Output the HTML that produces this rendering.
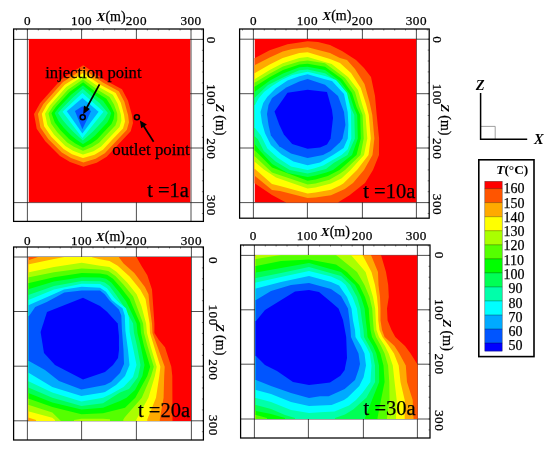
<!DOCTYPE html>
<html><head><meta charset="utf-8"><title>Temperature field</title>
<style>html,body{margin:0;padding:0;background:#fff}svg{display:block}text{font-family:"Liberation Serif","Times New Roman",serif;fill:#000}.s{stroke:#000;stroke-width:0.25px}.b{font-weight:bold}.bi{font-weight:bold;font-style:italic}</style>
</head><body>
<svg width="550" height="450" viewBox="0 0 550 450">
<rect width="550" height="450" fill="#fff"/>
<g id="panel1">
<line x1="27.4" y1="29" x2="27.4" y2="221.4" stroke="#222" stroke-width="0.8"/>
<line x1="81.6" y1="29" x2="81.6" y2="221.4" stroke="#222" stroke-width="0.8"/>
<line x1="136.4" y1="29" x2="136.4" y2="221.4" stroke="#222" stroke-width="0.8"/>
<line x1="191.0" y1="29" x2="191.0" y2="221.4" stroke="#222" stroke-width="0.8"/>
<line x1="13.6" y1="39.4" x2="203.4" y2="39.4" stroke="#222" stroke-width="0.8"/>
<line x1="13.6" y1="93.7" x2="203.4" y2="93.7" stroke="#222" stroke-width="0.8"/>
<line x1="13.6" y1="148.0" x2="203.4" y2="148.0" stroke="#222" stroke-width="0.8"/>
<line x1="13.6" y1="202.6" x2="203.4" y2="202.6" stroke="#222" stroke-width="0.8"/>
<clipPath id="cp0"><rect x="28.5" y="39" width="162.0" height="163.5"/></clipPath>
<g clip-path="url(#cp0)">
<rect x="28.5" y="39" width="162.0" height="163.5" fill="#FF0000"/>
<polygon points="40.0,103.3 61.3,79.3 82.8,65.6 83.3,65.3 104.7,80.0 122.0,89.3 128.0,100.7 131.4,113.0 132.0,115.3 133.0,123.0 130.7,131.3 118.0,144.7 106.7,156.7 96.7,162.7 83.3,166.7 82.8,166.5 70.0,162.0 60.0,156.0 45.3,141.3 36.7,128.7 34.0,114.0 34.6,113.0" fill="#FF5500"/>
<polygon points="43.4,104.1 63.0,82.0 82.8,69.4 83.3,69.1 102.9,82.6 118.9,91.2 124.4,101.7 127.5,113.0 128.1,115.1 129.0,122.2 126.9,129.8 115.2,142.2 104.8,153.2 95.6,158.7 83.3,162.4 82.8,162.2 71.0,158.1 61.8,152.6 48.3,139.0 40.4,127.4 37.9,113.9 38.4,113.0" fill="#FFAA00"/>
<polygon points="46.8,104.9 64.7,84.7 82.8,73.2 83.2,72.9 101.2,85.3 115.7,93.1 120.8,102.7 123.6,113.0 124.1,114.9 125.0,121.4 123.0,128.4 112.4,139.6 102.9,149.7 94.5,154.7 83.2,158.1 82.8,158.0 72.0,154.2 63.6,149.1 51.3,136.8 44.1,126.2 41.8,113.8 42.3,113.0" fill="#FFFF00"/>
<polygon points="49.8,105.5 66.2,87.0 82.8,76.3 83.2,76.1 99.7,87.6 112.8,94.8 117.6,103.5 120.5,113.0 120.9,114.8 121.4,120.7 119.5,127.0 109.8,137.3 101.1,146.5 93.5,151.2 83.2,154.6 82.8,154.5 73.0,150.7 65.3,146.0 54.1,134.7 47.4,125.1 45.0,113.8 45.4,113.0" fill="#AAFF00"/>
<polygon points="53.0,106.2 67.9,89.7 82.8,79.6 83.2,79.4 98.0,90.1 109.5,96.9 114.0,104.5 117.1,113.0 117.3,114.6 117.3,119.9 115.4,125.4 106.8,134.6 99.1,142.8 92.3,147.1 83.2,150.8 82.8,150.8 74.0,146.8 67.2,142.4 57.3,132.3 51.2,123.8 48.5,113.7 48.7,113.0" fill="#55FF00"/>
<polygon points="55.8,106.9 69.5,92.1 82.8,82.4 83.1,82.3 96.4,92.5 106.4,98.7 110.7,105.4 114.3,113.0 114.2,114.5 113.6,119.1 111.5,124.0 103.9,132.0 97.2,139.3 91.3,143.4 83.1,147.5 82.8,147.6 74.9,143.2 69.0,139.0 60.3,130.0 54.8,122.5 51.5,113.6 51.6,113.0" fill="#00FF00"/>
<polygon points="58.9,107.6 71.1,94.7 82.8,85.4 83.1,85.5 94.8,95.0 103.0,100.8 107.1,106.4 111.2,113.0 110.8,114.3 109.5,118.3 107.3,122.4 100.9,129.3 95.1,135.4 90.2,139.4 83.1,144.0 82.8,144.1 75.9,139.3 71.0,135.3 63.5,127.5 58.6,121.2 54.8,113.6 54.7,113.0" fill="#00FF55"/>
<polygon points="62.2,108.3 72.9,97.5 82.8,88.7 83.1,88.9 93.0,97.7 99.4,102.9 103.3,107.4 107.9,113.0 107.2,114.1 105.2,117.5 102.9,120.7 97.6,126.4 92.9,131.5 89.0,135.1 83.1,140.2 82.8,140.4 77.0,135.2 73.0,131.5 66.9,125.0 62.7,119.9 58.3,113.5 58.0,113.0" fill="#00FFAA"/>
<polygon points="62.5,111.8 82.4,93.1 103.5,111.8 82.4,137.9" fill="#00FFFF"/>
<polygon points="66.8,111.3 82.4,98.1 98.6,111.8 82.4,133.5" fill="#00AAFF"/>
<polygon points="74.9,111.1 82.4,106.2 91.1,111.1 82.4,129.2" fill="#0055FF"/>
</g>
<path d="M16.5,29v1.5M27.4,29v1.5M203.4,39.4h-1.5M38.3,29v1.5M203.4,50.3h-1.5M49.2,29v1.5M203.4,61.2h-1.5M60.1,29v1.5M203.4,72.0h-1.5M71.0,29v1.5M203.4,82.9h-1.5M81.9,29v1.5M203.4,93.8h-1.5M92.8,29v1.5M203.4,104.7h-1.5M103.7,29v1.5M203.4,115.6h-1.5M114.7,29v1.5M203.4,126.4h-1.5M125.6,29v1.5M203.4,137.3h-1.5M136.5,29v1.5M203.4,148.2h-1.5M147.4,29v1.5M203.4,159.1h-1.5M158.3,29v1.5M203.4,170.0h-1.5M169.2,29v1.5M203.4,180.8h-1.5M180.1,29v1.5M203.4,191.7h-1.5M191.0,29v1.5M203.4,202.6h-1.5M201.9,29v1.5M203.4,213.5h-1.5" stroke="#333" stroke-width="0.6" fill="none"/>
<rect x="13.6" y="29" width="189.8" height="192.4" fill="none" stroke="#000" stroke-width="1.25"/>
<text x="27.4" y="24.8" font-size="13.2" letter-spacing="0.45" text-anchor="middle" class="s">0</text>
<text x="81.6" y="24.8" font-size="13.2" letter-spacing="0.45" text-anchor="middle" class="s">100</text>
<text x="136.4" y="24.8" font-size="13.2" letter-spacing="0.45" text-anchor="middle" class="s">200</text>
<text x="191.0" y="24.8" font-size="13.2" letter-spacing="0.45" text-anchor="middle" class="s">300</text>
<text x="96.5" y="20.8" font-size="14"><tspan class="bi" font-size="13.4">X</tspan><tspan class="s">(m)</tspan></text>
<text transform="translate(207.4,40.2) rotate(90)" font-size="13.2" letter-spacing="0.45" text-anchor="middle" class="s">0</text>
<text transform="translate(207.4,94.5) rotate(90)" font-size="13.2" letter-spacing="0.45" text-anchor="middle" class="s">100</text>
<text transform="translate(207.4,148.8) rotate(90)" font-size="13.2" letter-spacing="0.45" text-anchor="middle" class="s">200</text>
<text transform="translate(207.4,205.2) rotate(90)" font-size="13.2" letter-spacing="0.45" text-anchor="middle" class="s">300</text>
<text transform="translate(215.6,104.0) rotate(90)" font-size="14"><tspan class="bi" font-size="13.4">Z</tspan><tspan class="s" dx="-0.4"> (m)</tspan></text>
<text x="147.2" y="197.3" font-size="20.5" class="s">t =1a</text>
</g>
<g id="panel2">
<line x1="253.4" y1="29" x2="253.4" y2="218.2" stroke="#222" stroke-width="0.8"/>
<line x1="307.4" y1="29" x2="307.4" y2="218.2" stroke="#222" stroke-width="0.8"/>
<line x1="362.4" y1="29" x2="362.4" y2="218.2" stroke="#222" stroke-width="0.8"/>
<line x1="416.4" y1="29" x2="416.4" y2="218.2" stroke="#222" stroke-width="0.8"/>
<line x1="239.6" y1="39.2" x2="429.2" y2="39.2" stroke="#222" stroke-width="0.8"/>
<line x1="239.6" y1="93.7" x2="429.2" y2="93.7" stroke="#222" stroke-width="0.8"/>
<line x1="239.6" y1="148.0" x2="429.2" y2="148.0" stroke="#222" stroke-width="0.8"/>
<line x1="239.6" y1="202.6" x2="429.2" y2="202.6" stroke="#222" stroke-width="0.8"/>
<clipPath id="cp1"><rect x="254.5" y="39" width="162.0" height="163.5"/></clipPath>
<g clip-path="url(#cp1)">
<rect x="254.5" y="39" width="162.0" height="163.5" fill="#FF0000"/>
<polygon points="250.0,57.9 255.0,57.9 269.7,50.2 287.5,44.3 307.6,41.3 318.0,42.0 330.0,45.0 342.0,51.0 356.0,60.0 364.0,68.0 371.0,77.0 375.0,96.0 376.7,115.0 379.1,138.6 379.0,155.0 373.0,170.0 365.0,183.0 349.5,195.2 338.6,202.1 338.0,206.0 286.0,206.0 286.0,202.5 272.0,195.0 255.0,183.5 250.0,183.5" fill="#FF5500"/>
<polygon points="250.0,65.0 255.0,65.0 269.7,57.5 282.7,51.4 292.2,49.0 307.6,47.2 330.0,53.0 340.0,58.0 347.0,60.0 355.0,69.0 364.5,84.0 369.5,102.0 372.3,115.0 374.4,138.6 372.5,155.0 364.0,170.0 353.0,183.0 344.8,189.0 331.0,195.2 315.5,197.5 307.6,198.0 280.0,191.0 272.0,190.0 255.0,176.0 250.0,176.0" fill="#FFAA00"/>
<polygon points="250.0,73.0 255.0,73.0 269.7,64.5 282.7,57.9 299.3,53.1 307.6,52.3 330.0,59.0 340.0,63.0 351.0,73.0 360.8,88.0 366.0,104.0 368.8,115.0 370.8,138.6 368.5,155.0 357.0,170.0 343.3,183.6 340.0,185.5 331.0,189.8 315.5,192.5 307.6,193.5 280.0,186.0 272.0,184.0 255.0,169.0 250.0,169.0" fill="#FFFF00"/>
<polygon points="250.0,79.0 255.0,79.0 269.7,70.0 282.7,63.2 299.3,57.9 307.6,57.0 331.7,64.0 348.0,77.0 358.0,90.0 362.0,104.0 365.5,115.0 367.3,138.6 364.0,155.0 350.5,170.0 341.7,178.2 331.0,183.6 315.5,187.5 307.6,188.5 276.0,177.5 263.8,169.5 255.0,162.0 250.0,162.0" fill="#AAFF00"/>
<polygon points="250.0,82.5 255.0,82.5 270.0,73.5 283.0,66.5 299.3,61.4 307.6,60.5 325.0,63.3 345.0,78.0 355.0,92.0 359.0,106.0 362.6,115.0 363.7,138.6 360.5,155.0 345.0,170.0 340.2,173.5 329.4,179.7 315.5,183.5 307.6,184.5 272.0,172.5 255.0,156.5 250.0,156.5" fill="#55FF00"/>
<polygon points="250.0,86.5 255.0,86.5 270.0,77.0 283.0,70.0 299.3,64.4 307.6,63.7 325.0,66.7 342.0,79.0 352.0,93.0 356.5,107.0 360.2,115.0 360.8,138.6 356.5,155.0 339.5,170.0 327.8,175.9 315.5,179.5 307.6,180.7 272.0,167.5 255.0,150.5 250.0,150.5" fill="#00FF00"/>
<polygon points="250.0,91.5 255.0,91.5 270.0,80.5 283.0,73.5 299.3,67.3 307.6,66.8 325.0,70.0 340.0,81.0 349.5,94.0 354.0,108.0 357.2,115.0 357.8,138.6 352.0,155.0 333.0,170.0 326.3,172.5 315.5,175.5 307.6,177.0 287.5,172.9 272.1,164.0 260.3,151.0 255.0,144.5 250.0,144.5" fill="#00FF55"/>
<polygon points="250.0,97.5 255.0,97.5 268.0,85.0 285.0,76.5 299.3,70.3 307.6,69.5 325.0,73.3 338.0,82.0 347.0,95.0 351.5,109.0 354.3,115.0 354.9,138.6 347.5,155.0 334.0,162.7 326.0,169.0 315.5,171.7 307.6,173.5 289.8,169.9 275.6,161.6 263.8,151.0 257.9,139.2 255.0,136.5 250.0,136.5" fill="#00FFAA"/>
<polygon points="250.0,105.0 255.0,105.0 258.5,98.5 264.0,92.0 272.0,86.0 281.6,80.0 292.2,75.0 307.6,71.8 325.0,76.0 336.0,80.0 347.0,93.0 351.0,112.0 351.3,138.6 347.8,149.3 341.5,155.0 330.9,161.0 323.2,165.5 313.9,168.6 307.6,169.9 291.0,166.4 278.0,158.1 267.4,148.6 260.9,135.6 255.0,128.0 250.0,128.0" fill="#00FFFF"/>
<polygon points="260.5,112.0 263.2,103.0 267.4,96.8 275.6,88.5 287.5,80.5 299.3,76.2 307.6,74.3 325.0,79.3 332.0,81.0 344.0,94.0 347.7,112.0 348.4,125.0 347.8,138.6 343.6,148.0 333.0,155.0 320.0,162.5 307.6,165.2 293.4,161.6 281.6,154.6 270.9,145.1 265.0,133.3 262.0,122.8" fill="#00AAFF"/>
<polygon points="267.0,114.0 268.5,105.0 272.1,98.0 286.3,87.4 299.3,81.5 307.6,79.0 325.0,84.7 338.0,96.0 344.0,112.0 345.4,125.0 342.5,138.6 340.0,142.2 330.6,151.0 323.0,155.0 307.6,158.1 291.0,153.4 279.2,146.3 270.9,135.6 268.5,125.0" fill="#0055FF"/>
<polygon points="274.5,111.6 287.5,92.7 307.6,89.7 327.0,92.0 332.0,110.0 333.0,118.0 330.6,138.6 327.0,144.5 320.0,147.5 307.6,148.8 292.2,143.9 283.9,134.5 279.2,124.5" fill="#0000FF"/>
</g>
<path d="M242.5,29v1.5M253.4,29v1.5M429.2,39.2h-1.5M264.3,29v1.5M429.2,50.1h-1.5M275.1,29v1.5M429.2,61.0h-1.5M286.0,29v1.5M429.2,71.9h-1.5M296.9,29v1.5M429.2,82.8h-1.5M307.7,29v1.5M429.2,93.7h-1.5M318.6,29v1.5M429.2,104.6h-1.5M329.5,29v1.5M429.2,115.5h-1.5M340.3,29v1.5M429.2,126.3h-1.5M351.2,29v1.5M429.2,137.2h-1.5M362.1,29v1.5M429.2,148.1h-1.5M372.9,29v1.5M429.2,159.0h-1.5M383.8,29v1.5M429.2,169.9h-1.5M394.7,29v1.5M429.2,180.8h-1.5M405.5,29v1.5M429.2,191.7h-1.5M416.4,29v1.5M429.2,202.6h-1.5M427.3,29v1.5M429.2,213.5h-1.5" stroke="#333" stroke-width="0.6" fill="none"/>
<rect x="239.6" y="29" width="189.6" height="189.2" fill="none" stroke="#000" stroke-width="1.25"/>
<text x="253.4" y="24.5" font-size="13.2" letter-spacing="0.45" text-anchor="middle" class="s">0</text>
<text x="307.4" y="24.5" font-size="13.2" letter-spacing="0.45" text-anchor="middle" class="s">100</text>
<text x="362.4" y="24.5" font-size="13.2" letter-spacing="0.45" text-anchor="middle" class="s">200</text>
<text x="416.4" y="24.5" font-size="13.2" letter-spacing="0.45" text-anchor="middle" class="s">300</text>
<text x="322.2" y="20.4" font-size="14"><tspan class="bi" font-size="13.4">X</tspan><tspan class="s">(m)</tspan></text>
<text transform="translate(433.2,39.8) rotate(90)" font-size="13.2" letter-spacing="0.45" text-anchor="middle" class="s">0</text>
<text transform="translate(433.2,94.3) rotate(90)" font-size="13.2" letter-spacing="0.45" text-anchor="middle" class="s">100</text>
<text transform="translate(433.2,148.6) rotate(90)" font-size="13.2" letter-spacing="0.45" text-anchor="middle" class="s">200</text>
<text transform="translate(433.2,204.4) rotate(90)" font-size="13.2" letter-spacing="0.45" text-anchor="middle" class="s">300</text>
<text transform="translate(441.4,104.0) rotate(90)" font-size="14"><tspan class="bi" font-size="13.4">Z</tspan><tspan class="s" dx="-0.4"> (m)</tspan></text>
<text x="363.3" y="197.5" font-size="20.5" class="s">t =10a</text>
</g>
<g id="panel3">
<line x1="27.4" y1="247" x2="27.4" y2="440" stroke="#222" stroke-width="0.8"/>
<line x1="81.6" y1="247" x2="81.6" y2="440" stroke="#222" stroke-width="0.8"/>
<line x1="136.4" y1="247" x2="136.4" y2="440" stroke="#222" stroke-width="0.8"/>
<line x1="191.4" y1="247" x2="191.4" y2="440" stroke="#222" stroke-width="0.8"/>
<line x1="13.6" y1="257" x2="203.4" y2="257" stroke="#222" stroke-width="0.8"/>
<line x1="13.6" y1="311.5" x2="203.4" y2="311.5" stroke="#222" stroke-width="0.8"/>
<line x1="13.6" y1="366.2" x2="203.4" y2="366.2" stroke="#222" stroke-width="0.8"/>
<line x1="13.6" y1="420.8" x2="203.4" y2="420.8" stroke="#222" stroke-width="0.8"/>
<clipPath id="cp2"><rect x="28.5" y="257" width="162.5" height="164.0"/></clipPath>
<g clip-path="url(#cp2)">
<rect x="28.5" y="257" width="162.5" height="164.0" fill="#FF0000"/>
<polygon points="136.6,250.0 136.6,257.3 141.4,265.8 147.3,275.3 152.0,289.5 153.2,306.0 154.4,323.6 154.4,333.0 159.1,340.2 165.0,347.3 171.3,366.8 172.3,376.0 172.5,420.0 172.5,430.0 20.0,430.0 20.0,250.0" fill="#FF5500"/>
<polygon points="38.0,250.0 38.0,257.0 29.0,260.0 20.0,260.0 20.0,430.0 159.8,430.0 159.8,419.6 163.6,397.8 164.2,376.0 164.7,366.8 158.0,348.0 152.5,333.0 152.0,323.6 149.6,306.0 148.5,294.2 144.9,287.1 134.3,272.9 123.6,263.5 118.9,257.3 118.9,250.0" fill="#FFAA00"/>
<polygon points="20.0,264.2 29.0,264.2 54.0,259.0 64.3,257.0 64.3,250.0 92.0,250.0 92.0,257.2 100.0,259.3 109.5,261.1 117.7,265.8 129.6,276.5 140.2,289.5 145.5,298.9 146.7,306.0 149.6,323.6 150.0,333.0 154.0,346.0 160.4,366.8 159.3,376.0 156.0,397.8 147.3,419.6 147.3,430.0 36.0,430.0 36.0,420.0 29.0,417.8 20.0,417.8" fill="#FFFF00"/>
<polygon points="20.0,272.2 29.0,272.2 54.0,267.0 81.7,262.7 100.0,265.8 109.5,267.0 116.5,271.7 127.2,282.4 136.6,294.2 141.4,306.0 146.1,323.6 147.0,333.0 150.5,346.0 156.7,366.8 154.9,376.0 148.4,397.8 136.4,419.6 136.4,430.0 55.0,430.0 55.0,420.0 52.3,417.8 29.0,411.5 20.0,411.5" fill="#AAFF00"/>
<polygon points="20.0,277.3 29.0,277.3 54.0,272.2 81.7,268.5 100.0,269.4 108.3,271.1 115.4,275.9 123.6,284.7 133.1,296.5 136.6,306.0 143.1,323.6 144.0,333.0 147.5,346.0 153.8,366.8 151.1,376.0 141.8,397.8 125.0,417.0 123.3,419.6 123.3,430.0 110.0,430.0 110.0,419.2 103.0,418.7 81.4,418.7 74.0,420.0 74.0,430.0 70.0,430.0 52.3,412.4 29.0,405.0 20.0,405.0" fill="#55FF00"/>
<polygon points="20.0,283.0 29.0,283.0 54.0,277.3 81.7,273.0 100.0,273.5 107.0,274.7 113.0,278.8 121.3,288.3 129.6,298.9 132.5,306.0 140.2,323.6 141.0,333.0 144.0,346.0 150.2,366.8 147.3,376.0 135.3,397.8 125.0,407.8 103.0,413.3 81.4,414.2 52.3,407.0 29.0,398.7 20.0,398.7" fill="#00FF00"/>
<polygon points="20.0,289.0 29.0,289.0 54.0,281.6 81.7,277.3 100.0,277.6 106.0,278.8 111.2,282.4 118.9,291.8 126.0,301.3 128.4,306.0 136.6,323.6 137.5,333.0 140.7,346.0 144.5,365.0 142.4,376.0 135.0,390.0 126.5,397.8 120.0,401.0 103.0,407.8 81.4,409.6 52.3,402.4 29.0,393.3 20.0,393.3" fill="#00FF55"/>
<polygon points="20.0,294.7 29.0,294.7 54.0,286.0 81.7,281.0 100.0,281.2 104.7,282.4 109.5,285.9 116.5,295.4 123.6,306.0 133.1,323.6 134.0,333.0 137.0,346.0 140.5,365.0 138.0,377.0 129.0,389.0 120.0,392.4 103.0,403.3 81.4,406.0 52.3,397.8 29.0,387.8 20.0,387.8" fill="#00FFAA"/>
<polygon points="20.0,299.8 29.0,299.8 54.0,289.6 81.7,283.8 100.0,284.1 107.0,288.3 114.2,297.7 119.5,303.0 126.0,308.3 129.0,317.7 129.6,331.9 133.5,350.0 136.5,365.0 133.0,377.0 123.5,387.0 111.0,394.0 103.0,397.8 81.4,401.5 52.3,392.4 29.0,381.5 20.0,381.5" fill="#00FFFF"/>
<polygon points="20.0,305.0 29.0,305.0 54.0,294.0 64.0,289.5 81.7,286.7 100.0,287.7 106.0,291.8 111.8,300.1 115.4,303.0 122.5,308.3 124.8,315.4 125.4,330.7 128.0,350.0 129.5,365.0 125.0,376.0 116.0,385.0 105.0,392.0 103.0,392.4 81.4,396.0 52.3,387.0 29.0,373.0 20.0,373.0" fill="#00AAFF"/>
<polygon points="20.0,316.0 29.0,316.0 35.2,307.0 46.8,302.0 64.3,292.5 81.7,290.4 100.0,290.6 104.7,294.2 109.5,300.5 118.9,309.5 121.3,315.4 121.9,329.6 123.5,350.0 124.0,364.0 120.0,373.0 111.0,382.0 105.0,385.0 81.4,389.6 59.0,381.0 45.0,370.0 29.0,361.0 20.0,361.0" fill="#0055FF"/>
<polygon points="40.6,332.0 47.0,312.0 83.0,297.8 100.0,305.9 107.0,311.8 117.7,323.6 118.9,335.5 119.0,350.0 118.0,358.0 113.0,365.0 105.0,372.0 83.0,379.5 55.0,365.0 44.0,353.0" fill="#0000FF"/>
</g>
<path d="M16.5,247v1.5M27.4,247v1.5M203.4,257.0h-1.5M38.3,247v1.5M203.4,267.9h-1.5M49.3,247v1.5M203.4,278.8h-1.5M60.2,247v1.5M203.4,289.8h-1.5M71.1,247v1.5M203.4,300.7h-1.5M82.1,247v1.5M203.4,311.6h-1.5M93.0,247v1.5M203.4,322.5h-1.5M103.9,247v1.5M203.4,333.4h-1.5M114.9,247v1.5M203.4,344.4h-1.5M125.8,247v1.5M203.4,355.3h-1.5M136.7,247v1.5M203.4,366.2h-1.5M147.7,247v1.5M203.4,377.1h-1.5M158.6,247v1.5M203.4,388.0h-1.5M169.5,247v1.5M203.4,399.0h-1.5M180.5,247v1.5M203.4,409.9h-1.5M191.4,247v1.5M203.4,420.8h-1.5M202.3,247v1.5M203.4,431.7h-1.5" stroke="#333" stroke-width="0.6" fill="none"/>
<rect x="13.6" y="247" width="189.8" height="193.0" fill="none" stroke="#000" stroke-width="1.25"/>
<text x="27.4" y="244.9" font-size="13.2" letter-spacing="0.45" text-anchor="middle" class="s">0</text>
<text x="81.6" y="244.9" font-size="13.2" letter-spacing="0.45" text-anchor="middle" class="s">100</text>
<text x="136.4" y="244.9" font-size="13.2" letter-spacing="0.45" text-anchor="middle" class="s">200</text>
<text x="191.4" y="244.9" font-size="13.2" letter-spacing="0.45" text-anchor="middle" class="s">300</text>
<text x="95.8" y="240.9" font-size="14"><tspan class="bi" font-size="13.4">X</tspan><tspan class="s">(m)</tspan></text>
<text transform="translate(208.9,260.6) rotate(90)" font-size="13.2" letter-spacing="0.45" text-anchor="middle" class="s">0</text>
<text transform="translate(208.9,315.1) rotate(90)" font-size="13.2" letter-spacing="0.45" text-anchor="middle" class="s">100</text>
<text transform="translate(208.9,369.8) rotate(90)" font-size="13.2" letter-spacing="0.45" text-anchor="middle" class="s">200</text>
<text transform="translate(208.9,425.2) rotate(90)" font-size="13.2" letter-spacing="0.45" text-anchor="middle" class="s">300</text>
<text transform="translate(216.2,323.8) rotate(90)" font-size="14"><tspan class="bi" font-size="13.4">Z</tspan><tspan class="s" dx="-0.4"> (m)</tspan></text>
<text x="138.0" y="417.3" font-size="20.5" class="s">t =20a</text>
</g>
<g id="panel4">
<line x1="254.4" y1="245" x2="254.4" y2="438" stroke="#222" stroke-width="0.8"/>
<line x1="308.4" y1="245" x2="308.4" y2="438" stroke="#222" stroke-width="0.8"/>
<line x1="363.4" y1="245" x2="363.4" y2="438" stroke="#222" stroke-width="0.8"/>
<line x1="417.4" y1="245" x2="417.4" y2="438" stroke="#222" stroke-width="0.8"/>
<line x1="240.6" y1="255.4" x2="430" y2="255.4" stroke="#222" stroke-width="0.8"/>
<line x1="240.6" y1="309.8" x2="430" y2="309.8" stroke="#222" stroke-width="0.8"/>
<line x1="240.6" y1="364.2" x2="430" y2="364.2" stroke="#222" stroke-width="0.8"/>
<line x1="240.6" y1="419" x2="430" y2="419" stroke="#222" stroke-width="0.8"/>
<clipPath id="cp3"><rect x="255.5" y="255.2" width="162.0" height="163.8"/></clipPath>
<g clip-path="url(#cp3)">
<rect x="255.5" y="255.2" width="162.0" height="163.8" fill="#FF0000"/>
<polygon points="245.0,245.0 381.0,245.0 381.0,255.0 386.0,272.0 388.2,285.0 388.8,297.0 387.0,308.6 387.6,320.5 391.5,330.0 395.3,337.0 405.0,346.0 410.6,353.6 417.3,364.3 430.0,364.3 430.0,430.0 245.0,430.0" fill="#FF5500"/>
<polygon points="245.0,245.0 371.0,245.0 371.0,255.0 378.0,272.0 378.5,285.0 380.0,297.0 380.5,308.6 380.5,320.5 382.0,330.0 384.6,337.0 394.5,346.0 399.3,353.6 405.8,365.5 407.0,382.0 412.7,400.0 413.5,418.0 413.5,430.0 245.0,430.0" fill="#FFAA00"/>
<polygon points="245.0,245.0 362.5,245.0 362.5,255.0 371.5,272.0 375.0,285.0 377.0,297.0 378.1,308.6 378.3,320.5 379.5,330.0 382.5,337.0 389.0,346.0 394.0,353.6 398.7,365.5 400.5,382.0 404.7,400.0 404.7,418.0 404.7,430.0 245.0,430.0" fill="#FFFF00"/>
<polygon points="245.0,245.0 351.0,245.0 351.0,255.0 365.6,272.0 369.5,285.0 373.0,297.0 375.2,308.6 375.8,320.5 376.5,330.0 379.0,337.0 385.0,346.0 388.7,353.6 392.8,365.5 394.6,382.0 396.7,400.0 396.0,418.0 396.0,430.0 245.0,430.0" fill="#AAFF00"/>
<polygon points="245.0,259.0 256.0,259.0 281.0,255.0 281.0,245.0 336.0,245.0 336.0,255.0 357.0,272.0 364.5,285.0 369.5,297.0 372.2,308.6 373.0,320.5 373.8,330.0 376.0,337.0 381.0,346.0 384.6,353.6 388.1,365.5 389.3,382.0 389.5,400.0 387.0,418.0 387.0,430.0 245.0,430.0" fill="#55FF00"/>
<polygon points="245.0,266.0 256.0,266.0 281.0,261.0 309.0,259.5 336.0,264.5 347.0,272.0 359.2,285.0 365.0,297.0 368.7,308.6 369.5,320.5 370.5,330.0 372.0,337.0 377.0,346.0 380.4,353.6 383.5,365.5 384.6,382.0 381.0,400.0 377.5,418.0 377.5,430.0 267.0,430.0 267.0,418.0 256.0,415.0 245.0,415.0" fill="#00FF00"/>
<polygon points="245.0,272.5 256.0,272.5 281.0,268.0 309.0,263.0 341.0,272.0 355.1,285.0 361.0,297.0 364.6,308.6 365.8,320.5 367.0,330.0 367.5,337.0 373.0,346.0 376.3,353.6 379.0,365.5 379.2,382.0 372.0,400.0 365.0,418.0 365.0,430.0 285.0,430.0 285.0,418.0 271.0,414.0 256.0,411.0 245.0,411.0" fill="#00FF55"/>
<polygon points="245.0,278.0 256.0,278.0 281.0,273.0 309.0,267.0 341.0,276.0 350.4,285.0 357.0,297.0 360.4,308.6 362.0,320.5 363.5,330.0 364.0,337.0 369.0,346.0 372.7,353.6 375.0,365.5 375.1,382.0 366.5,397.6 353.5,409.3 345.0,414.5 335.0,418.0 335.0,430.0 295.0,430.0 295.0,418.0 285.0,415.0 271.0,409.0 256.0,405.0 245.0,405.0" fill="#00FFAA"/>
<polygon points="245.0,282.5 256.0,282.5 281.0,277.0 309.0,271.0 331.0,276.5 341.0,281.0 345.6,285.0 352.5,297.0 356.9,308.6 358.5,320.5 360.0,330.0 360.5,337.0 366.0,346.0 369.8,353.6 371.5,365.5 370.4,382.0 362.2,393.3 356.0,400.0 349.0,405.6 334.5,411.5 320.0,412.2 309.0,413.0 291.0,410.0 271.0,402.0 256.0,398.0 245.0,398.0" fill="#00FFFF"/>
<polygon points="245.0,288.5 256.0,288.5 281.0,282.0 309.0,276.0 331.0,282.0 339.0,285.5 347.0,297.0 351.5,308.6 353.0,320.5 355.0,330.0 355.5,337.0 361.0,346.0 364.5,353.6 366.0,365.5 363.6,377.3 359.3,386.0 347.6,397.6 344.0,400.0 331.6,405.0 320.0,405.6 309.0,406.0 291.0,402.0 271.0,394.0 256.0,390.0 245.0,390.0" fill="#00AAFF"/>
<polygon points="245.0,300.0 256.0,300.0 271.0,291.0 291.0,285.0 309.0,283.0 331.0,289.0 341.0,296.0 348.0,308.6 349.5,320.5 350.5,330.0 351.0,337.0 355.0,346.0 358.5,353.6 360.0,364.0 358.5,370.0 355.0,380.0 344.7,389.0 328.7,396.2 320.0,396.2 309.0,398.0 291.0,393.0 271.0,386.0 256.0,380.0 245.0,380.0" fill="#0055FF"/>
<polygon points="245.0,321.0 256.0,321.0 265.0,310.0 295.0,291.6 309.0,290.0 319.0,292.0 331.0,302.0 338.5,308.6 343.0,320.0 346.2,337.0 347.0,358.0 345.0,368.0 344.7,370.0 340.4,375.8 330.0,382.4 320.0,383.8 309.0,385.0 293.0,382.0 277.0,371.0 265.0,365.0 256.0,356.0 245.0,356.0" fill="#0000FF"/>
</g>
<path d="M243.5,245v1.5M254.4,245v1.5M430,255.4h-1.5M265.3,245v1.5M430,266.3h-1.5M276.1,245v1.5M430,277.2h-1.5M287.0,245v1.5M430,288.1h-1.5M297.9,245v1.5M430,299.0h-1.5M308.7,245v1.5M430,309.9h-1.5M319.6,245v1.5M430,320.8h-1.5M330.5,245v1.5M430,331.7h-1.5M341.3,245v1.5M430,342.7h-1.5M352.2,245v1.5M430,353.6h-1.5M363.1,245v1.5M430,364.5h-1.5M373.9,245v1.5M430,375.4h-1.5M384.8,245v1.5M430,386.3h-1.5M395.7,245v1.5M430,397.2h-1.5M406.5,245v1.5M430,408.1h-1.5M417.4,245v1.5M430,419.0h-1.5M428.3,245v1.5M430,429.9h-1.5" stroke="#333" stroke-width="0.6" fill="none"/>
<rect x="240.6" y="245" width="189.4" height="193.0" fill="none" stroke="#000" stroke-width="1.25"/>
<text x="253.3" y="240.4" font-size="13.2" letter-spacing="0.45" text-anchor="middle" class="s">0</text>
<text x="307.3" y="240.4" font-size="13.2" letter-spacing="0.45" text-anchor="middle" class="s">100</text>
<text x="362.3" y="240.4" font-size="13.2" letter-spacing="0.45" text-anchor="middle" class="s">200</text>
<text x="416.3" y="240.4" font-size="13.2" letter-spacing="0.45" text-anchor="middle" class="s">300</text>
<text x="320.7" y="236.1" font-size="14"><tspan class="bi" font-size="13.4">X</tspan><tspan class="s">(m)</tspan></text>
<text transform="translate(435.0,255.2) rotate(90)" font-size="13.2" letter-spacing="0.45" text-anchor="middle" class="s">0</text>
<text transform="translate(435.0,309.6) rotate(90)" font-size="13.2" letter-spacing="0.45" text-anchor="middle" class="s">100</text>
<text transform="translate(435.0,364.0) rotate(90)" font-size="13.2" letter-spacing="0.45" text-anchor="middle" class="s">200</text>
<text transform="translate(435.0,420.6) rotate(90)" font-size="13.2" letter-spacing="0.45" text-anchor="middle" class="s">300</text>
<text transform="translate(442.6,319.3) rotate(90)" font-size="14"><tspan class="bi" font-size="13.4">Z</tspan><tspan class="s" dx="-0.4"> (m)</tspan></text>
<text x="363.6" y="415.3" font-size="20.5" class="s">t =30a</text>
</g>
<g id="annot">
<text x="45.2" y="77.5" font-size="16.6" class="s">injection point</text>
<text x="112.2" y="155.0" font-size="16.9" class="s">outlet point</text>
<line x1="99.5" y1="84.3" x2="85.8" y2="109.5" stroke="#000" stroke-width="1.7"/>
<polygon points="83.2,114.2 83.9,105.6 89.9,108.9" fill="#000"/>
<circle cx="82.7" cy="117.2" r="2.5" fill="none" stroke="#000" stroke-width="1.6"/>
<circle cx="136.9" cy="117.2" r="2.5" fill="none" stroke="#000" stroke-width="1.6"/>
<line x1="153.6" y1="141.8" x2="143" y2="125" stroke="#000" stroke-width="1.7"/>
<polygon points="139.9,120.4 146.9,124.6 141.2,128.2" fill="#000"/>
</g>
<g id="axes">
<path d="M480.6,126.4H495.2V139.3" fill="none" stroke="#888" stroke-width="0.8"/>
<path d="M480.6,93.1V139.3H527.2" fill="none" stroke="#000" stroke-width="1.5"/>
<text x="475.8" y="89.8" font-size="14.5" class="bi">Z</text>
<text x="534.0" y="144.0" font-size="14.5" class="bi">X</text>
</g>
<g id="legend">
<rect x="478.8" y="159.8" width="55.2" height="196.8" fill="#fff" stroke="#000" stroke-width="1.6"/>
<text x="496.2" y="174.4" font-size="13.4"><tspan class="bi">T</tspan><tspan class="b">(°C)</tspan></text>
<rect x="484.8" y="181.3" width="17.4" height="7.6" fill="#FF0000"/>
<rect x="484.8" y="188.6" width="17.4" height="14.3" fill="#FF5500"/>
<rect x="484.8" y="202.6" width="17.4" height="14.3" fill="#FFAA00"/>
<rect x="484.8" y="216.7" width="17.4" height="14.3" fill="#FFFF00"/>
<rect x="484.8" y="230.7" width="17.4" height="14.3" fill="#AAFF00"/>
<rect x="484.8" y="244.8" width="17.4" height="14.3" fill="#55FF00"/>
<rect x="484.8" y="258.8" width="17.4" height="14.3" fill="#00FF00"/>
<rect x="484.8" y="272.8" width="17.4" height="14.3" fill="#00FF55"/>
<rect x="484.8" y="286.9" width="17.4" height="14.3" fill="#00FFAA"/>
<rect x="484.8" y="300.9" width="17.4" height="14.3" fill="#00FFFF"/>
<rect x="484.8" y="315.0" width="17.4" height="14.3" fill="#00AAFF"/>
<rect x="484.8" y="329.0" width="17.4" height="14.3" fill="#0055FF"/>
<rect x="484.8" y="343.0" width="17.4" height="8.3" fill="#0000FF"/>
<line x1="484.8" y1="188.6" x2="502.2" y2="188.6" stroke="#000" stroke-width="0.5" stroke-opacity="0.6"/>
<text x="503.6" y="193.4" font-size="14" class="s">160</text>
<line x1="484.8" y1="202.6" x2="502.2" y2="202.6" stroke="#000" stroke-width="0.5" stroke-opacity="0.6"/>
<text x="503.6" y="207.7" font-size="14" class="s">150</text>
<line x1="484.8" y1="216.7" x2="502.2" y2="216.7" stroke="#000" stroke-width="0.5" stroke-opacity="0.6"/>
<text x="503.6" y="221.9" font-size="14" class="s">140</text>
<line x1="484.8" y1="230.7" x2="502.2" y2="230.7" stroke="#000" stroke-width="0.5" stroke-opacity="0.6"/>
<text x="503.6" y="236.2" font-size="14" class="s">130</text>
<line x1="484.8" y1="244.8" x2="502.2" y2="244.8" stroke="#000" stroke-width="0.5" stroke-opacity="0.6"/>
<text x="503.6" y="250.4" font-size="14" class="s">120</text>
<line x1="484.8" y1="258.8" x2="502.2" y2="258.8" stroke="#000" stroke-width="0.5" stroke-opacity="0.6"/>
<text x="503.6" y="264.7" font-size="14" class="s">110</text>
<line x1="484.8" y1="272.8" x2="502.2" y2="272.8" stroke="#000" stroke-width="0.5" stroke-opacity="0.6"/>
<text x="503.6" y="279.0" font-size="14" class="s">100</text>
<line x1="484.8" y1="286.9" x2="502.2" y2="286.9" stroke="#000" stroke-width="0.5" stroke-opacity="0.6"/>
<text x="508.4" y="293.2" font-size="14" class="s">90</text>
<line x1="484.8" y1="300.9" x2="502.2" y2="300.9" stroke="#000" stroke-width="0.5" stroke-opacity="0.6"/>
<text x="508.4" y="307.5" font-size="14" class="s">80</text>
<line x1="484.8" y1="315.0" x2="502.2" y2="315.0" stroke="#000" stroke-width="0.5" stroke-opacity="0.6"/>
<text x="508.4" y="321.7" font-size="14" class="s">70</text>
<line x1="484.8" y1="329.0" x2="502.2" y2="329.0" stroke="#000" stroke-width="0.5" stroke-opacity="0.6"/>
<text x="508.4" y="336.0" font-size="14" class="s">60</text>
<line x1="484.8" y1="343.0" x2="502.2" y2="343.0" stroke="#000" stroke-width="0.5" stroke-opacity="0.6"/>
<text x="508.4" y="350.3" font-size="14" class="s">50</text>
<rect x="484.8" y="181.3" width="17.4" height="169.7" fill="none" stroke="#222" stroke-width="0.5" stroke-opacity="0.7"/>
</g>
</svg></body></html>
